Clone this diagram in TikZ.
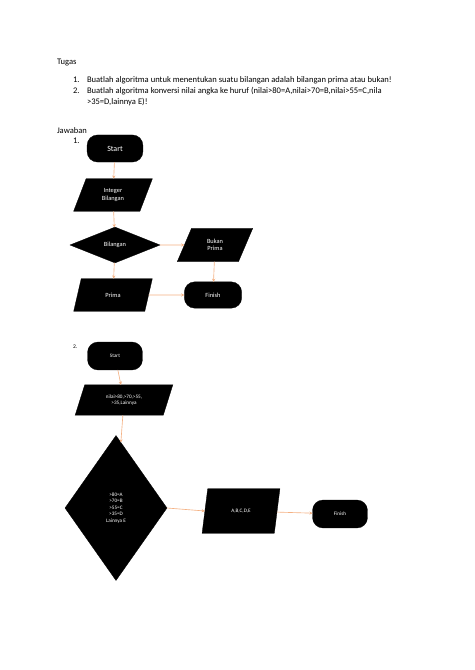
\documentclass[tikz,border=0pt]{standalone}
\usepackage{fontspec}
\setmainfont{Carlito}
\usetikzlibrary{shapes.geometric,arrows.meta}
\definecolor{peach}{HTML}{F4B183}
\begin{document}
\begin{tikzpicture}[x=1.2559pt,y=-1.2559pt,inner sep=0pt,outer sep=0pt,
terminal/.style={draw=black,fill=black,text=white,rectangle,rounded corners=13pt,minimum width=70pt,minimum height=34pt,font=\fontsize{8}{9.5}\selectfont},
iobox/.style={draw=black,fill=black,text=white,trapezium,trapezium left angle=68,trapezium right angle=112,trapezium stretches=true,minimum width=99pt,minimum height=41pt,font=\fontsize{8}{9.5}\selectfont,align=center},
decision/.style={draw=black,fill=black,text=white,diamond,minimum width=113pt,minimum height=45pt,font=\fontsize{8}{9.5}\selectfont,align=center},
small/.style={font=\fontsize{6.5}{8}\selectfont},
txt/.style={anchor=base west,font=\fontsize{10.75}{13}\selectfont},
flow/.style={draw=peach,line width=0.8pt,-{Stealth[length=4pt,width=4pt]}}]
\useasboundingbox (0,0) rectangle (474,670);

% soal
\draw (57,65) node[txt] (tugas) {Tugas};
\draw (73,83) node[txt] (n1) {1.};
\draw (87,83) node[txt] (q1) {Buatlah algoritma untuk menentukan suatu bilangan adalah bilangan prima atau bukan!};
\draw (73,94) node[txt] (n2) {2.};
\draw (87,94) node[txt] (q2) {Buatlah algoritma konversi nilai angka ke huruf (nilai>80=A,nilai>70=B,nilai>55=C,nila};
\draw (87,104.5) node[txt] (q2b) {>35=D,lainnya E)!};
\draw (57,134) node[txt] (jawab) {Jawaban};
\draw (73,144) node[txt] (a1) {1.};

% flowchart 1
\draw (115,148.5) node[terminal,font=\fontsize{10}{12}\selectfont] (start1) {Start};
\draw (113,195) node[iobox] (in1) {Integer\\Bilangan};
\draw (115,245) node[decision] (dec1) {Bilangan};
\draw (215,245) node[iobox,minimum width=95pt,minimum height=42pt] (bukan) {Bukan\\Prima};
\draw (113,295) node[iobox] (prima) {Prima};
\draw (213,295) node[terminal,minimum width=72pt,minimum height=33pt] (fin1) {Finish};

\draw[flow] (start1) -- (in1);
\draw[flow] (in1) -- (dec1);
\draw[flow] (dec1.east) -- (bukan.west);
\draw[flow] (dec1) -- (prima);
\draw[flow] (bukan) -- (fin1);
\draw[flow] (prima) -- (fin1);

% flowchart 2
\draw (73,348) node[txt,font=\fontsize{7}{8}\selectfont] (a2) {2.};
\draw (115,356) node[terminal,small,minimum width=69pt,minimum height=35pt] (start2) {Start};
\draw (124,400) node[iobox,small,minimum width=123pt,minimum height=38pt] (in2) {nilai>80,>70,>55,\\>35,Lainnya};
\draw (116,508) node[decision,small,minimum width=128pt,minimum height=182pt] (dec2) {>80=A\\>70=B\\>55=C\\>35=D\\Lainnya E};
\draw (241,511) node[iobox,small,minimum width=98pt,minimum height=56pt] (out2) {A,B,C,D,E};
\draw (340,514) node[terminal,small,minimum width=69pt,minimum height=35pt] (fin2) {Finish};

\draw[flow] (start2) -- (in2);
\draw[flow] (in2) -- (dec2);
\draw[flow] (dec2.east) -- (out2.west);
\draw[flow] (out2) -- (fin2);
\end{tikzpicture}
\end{document}
